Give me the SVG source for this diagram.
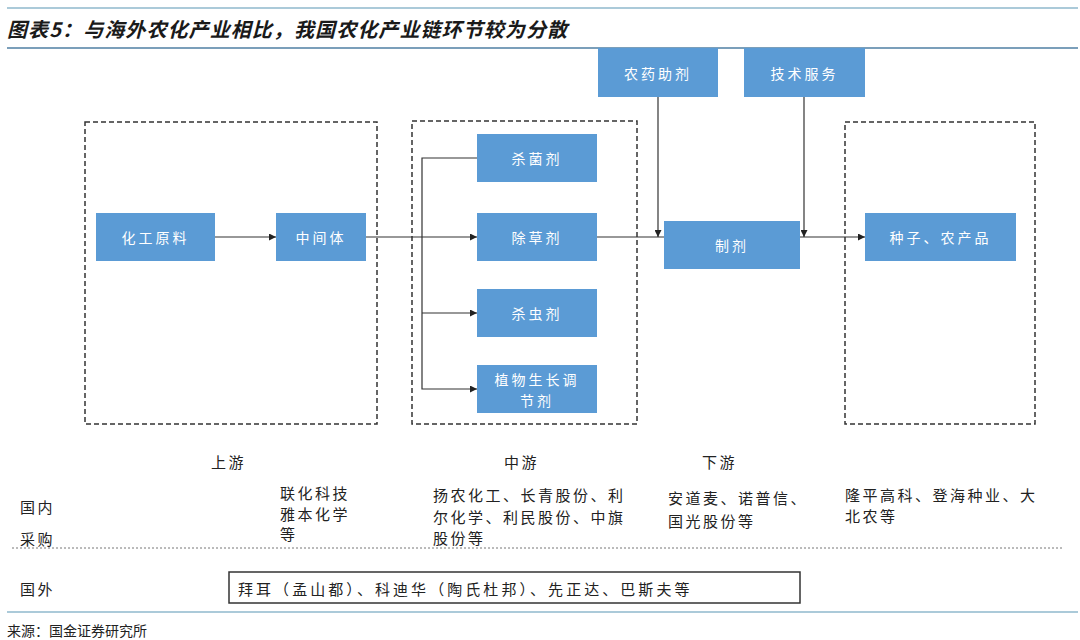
<svg xmlns="http://www.w3.org/2000/svg" width="1080" height="640" viewBox="0 0 1080 640">
<style>
.bg{fill:#ffffff}
.node rect{fill:#5b9bd5}
.node text{fill:#ffffff;font-family:"Noto Sans CJK SC","Noto Sans",sans-serif;font-size:14px;letter-spacing:3px;text-anchor:middle;dominant-baseline:central}
.dash{fill:none;stroke:#333;stroke-width:1.5;stroke-dasharray:5,3}
.conn line,.conn polyline{fill:none;stroke:#333;stroke-width:1.2}
.t{fill:#222;font-family:"Noto Sans CJK SC","Noto Sans",sans-serif;font-size:15px;letter-spacing:2.5px;dominant-baseline:central}
.title{fill:#1a1a1a;font-family:"Noto Sans CJK SC","Noto Sans",sans-serif;font-size:20px;font-weight:bold;font-style:italic;dominant-baseline:central}
.src{fill:#222;font-family:"Noto Sans CJK SC","Noto Sans",sans-serif;font-size:14px;dominant-baseline:central}
</style>
<defs>
<marker id="arr" viewBox="0 0 10 10" refX="10" refY="5" markerWidth="7" markerHeight="7" markerUnits="userSpaceOnUse" orient="auto">
<path d="M0,0 L10,5 L0,10 z" fill="#222"/>
</marker>
</defs>
<rect class="bg" x="0" y="0" width="1080" height="640"/>
<line x1="7" y1="8" x2="1078" y2="8" stroke="#8fb8cc" stroke-width="1.5"/>
<text class="title" x="7" y="28" textLength="560">图表5：与海外农化产业相比，我国农化产业链环节较为分散</text>
<line x1="7" y1="48" x2="1078" y2="48" stroke="#4f7fa3" stroke-width="1.5"/>

<rect class="dash" x="85" y="122" width="292" height="302"/>
<rect class="dash" x="412" y="121" width="225" height="303"/>
<rect class="dash" x="845" y="122" width="190" height="302"/>

<g class="conn">
<line x1="215" y1="237" x2="276" y2="237" marker-end="url(#arr)"/>
<line x1="366" y1="237" x2="477" y2="237" marker-end="url(#arr)"/>
<polyline points="477,158 422,158 422,389 477,389" marker-end="url(#arr)"/>
<line x1="422" y1="313" x2="477" y2="313" marker-end="url(#arr)"/>
<line x1="597" y1="237" x2="664" y2="237"/>
<line x1="658" y1="97" x2="658" y2="237" marker-end="url(#arr)"/>
<line x1="804" y1="97" x2="804" y2="237" marker-end="url(#arr)"/>
<line x1="800" y1="237" x2="865" y2="237" marker-end="url(#arr)"/>
</g>

<g id="n-huagong" class="node"><rect x="96" y="213" width="119" height="48"/><text x="155.5" y="237">化工原料</text></g>
<g id="n-zhongjian" class="node"><rect x="276" y="213" width="90" height="48"/><text x="321" y="237">中间体</text></g>
<g id="n-shajun" class="node"><rect x="477" y="134" width="120" height="48"/><text x="537" y="158">杀菌剂</text></g>
<g id="n-chucao" class="node"><rect x="477" y="213" width="120" height="48"/><text x="537" y="237">除草剂</text></g>
<g id="n-shachong" class="node"><rect x="477" y="289" width="120" height="48"/><text x="537" y="313">杀虫剂</text></g>
<g id="n-zhiwu" class="node"><rect x="477" y="365" width="120" height="48"/><text x="537" y="379">植物生长调</text><text x="537" y="400">节剂</text></g>
<g id="n-zhuji" class="node"><rect x="598" y="48" width="120" height="49"/><text x="658" y="73">农药助剂</text></g>
<g id="n-jishu" class="node"><rect x="744" y="48" width="121" height="49"/><text x="804.5" y="73">技术服务</text></g>
<g id="n-zhiji" class="node"><rect x="664" y="221" width="136" height="48"/><text x="732" y="245">制剂</text></g>
<g id="n-zhongzi" class="node"><rect x="865" y="213" width="151" height="48"/><text x="940.5" y="237">种子、农产品</text></g>

<text class="t" x="211" y="461">上游</text>
<text class="t" x="504" y="461">中游</text>
<text class="t" x="702" y="461">下游</text>

<text class="t" x="20" y="506">国内</text>
<text class="t" x="20" y="538">采购</text>
<text class="t" x="280" y="492">联化科技</text>
<text class="t" x="280" y="513">雅本化学</text>
<text class="t" x="280" y="533">等</text>
<text class="t" x="433" y="494">扬农化工、长青股份、利</text>
<text class="t" x="433" y="516">尔化学、利民股份、中旗</text>
<text class="t" x="433" y="537">股份等</text>
<text class="t" x="668" y="497">安道麦、诺普信、</text>
<text class="t" x="668" y="520">国光股份等</text>
<text class="t" x="845" y="494">隆平高科、登海种业、大</text>
<text class="t" x="845" y="515">北农等</text>

<line x1="12" y1="548" x2="1063" y2="548" stroke="#777" stroke-width="1" stroke-dasharray="2,2"/>

<text class="t" x="20" y="588">国外</text>
<rect x="229" y="572" width="571" height="31" fill="none" stroke="#333" stroke-width="1.5"/>
<text class="t" x="238" y="588" textLength="454" lengthAdjust="spacing">拜耳（孟山都）、科迪华（陶氏杜邦）、先正达、巴斯夫等</text>

<line x1="7" y1="612" x2="1078" y2="612" stroke="#8fb8cc" stroke-width="1.5"/>
<text class="src" x="7" y="630">来源：国金证券研究所</text>
</svg>
